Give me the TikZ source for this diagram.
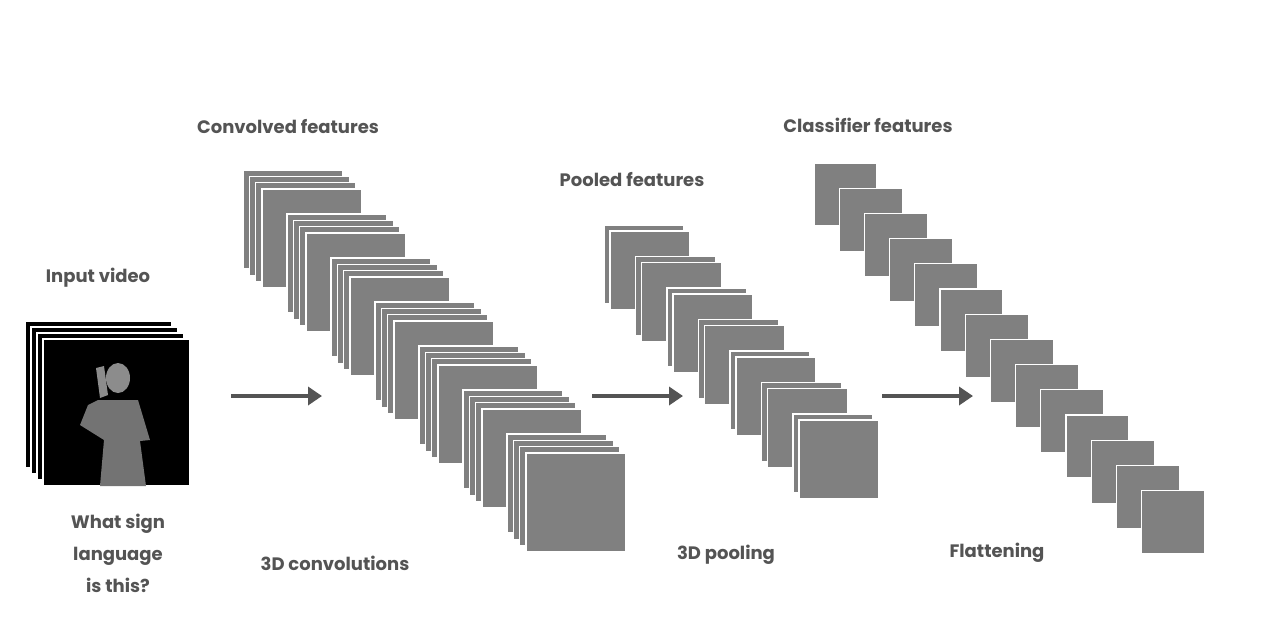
\documentclass[tikz,border=0pt]{standalone}
\usepackage{fontspec}
\setmainfont{Poppins}
\begin{document}
\begin{tikzpicture}[x=1pt,y=-1pt,
  fm/.style={fill=gray!100!black!50!white,draw=white,line width=1.3pt},
  sq/.style={fill=black!50,draw=white,line width=1.2pt},
  vid/.style={fill=black,draw=white,line width=1.2pt},
  arr/.style={draw=black!67,line width=4.5pt,-{Triangle[length=14pt,width=18pt]}},
  lab/.style={text=black!67,font=\fontsize{18}{22}\selectfont\bfseries,align=center,inner sep=0pt}]
\usetikzlibrary{arrows.meta}
\useasboundingbox (0,0) rectangle (1266,638);
\fill[white] (0,0) rectangle (1266,638);
% input video
\foreach \i in {0,...,3}{
  \path[vid] (25+6*\i,321+6*\i) rectangle ++(147,147);}
\node (vid) at (116.5,412.5) {};
\fill[black!45] (118,378) ellipse (12 and 15);
\fill[black!55] (98,400) -- (138,400) -- (150,440) -- (140,441) -- (146,486) -- (100,486) -- (104,440) -- (80,425) -- (88,405) -- cycle;
\fill[black!45] (96,368) -- (104,366) -- (108,395) -- (100,398) -- cycle;
% convolved features
\foreach \g in {0,...,6}{
  \foreach \i in {0,...,3}{
    \path[sq] (243+44*\g+6.3*\i,170+44*\g+6.3*\i) rectangle ++(100,99);}}
\node (conv) at (577,503) {};
% pooled
\foreach \g in {0,...,6}{
  \foreach \i in {0,1}{
    \path[sq] (604+31.5*\g+6*\i,225+31.5*\g+6*\i) rectangle ++(80,79);}}
\node (pool) at (839,459) {};
% classifier
\foreach \i in {0,...,13}{
  \path[sq] (814+25.2*\i,163+25.2*\i) rectangle ++(63,63);}
\node (cls) at (1173,522) {};
% arrows
\coordinate (a1s) at (231,396); \coordinate (a1e) at (322,396);
\coordinate (a2s) at (592,396); \coordinate (a2e) at (683,396);
\coordinate (a3s) at (882,396); \coordinate (a3e) at (973,396);
\draw[arr] (a1s) -- (a1e);
\draw[arr] (a2s) -- (a2e);
\draw[arr] (a3s) -- (a3e);
% labels
\node[lab] (l1) at (98,278) {Input video};
\node[lab] (l2) at (288,127) {Convolved features};
\node[lab] (l3) at (632,180) {Pooled features};
\node[lab] (l4) at (868,125) {Classifier features};
\node[lab,font=\fontsize{18}{32}\selectfont\bfseries] (l5) at (118,553) {What sign\\language\\is this?};
\node[lab] (l6) at (335,563) {3D convolutions};
\node[lab] (l7) at (726,555) {3D pooling};
\node[lab] (l8) at (997,553) {Flattening};
\end{tikzpicture}
\end{document}
